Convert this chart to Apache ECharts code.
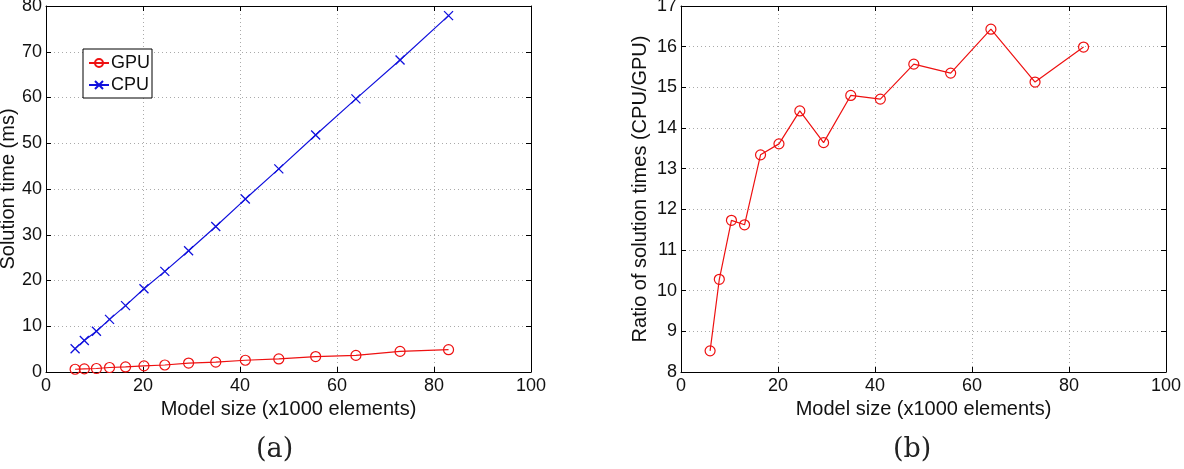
<!DOCTYPE html>
<html>
<head>
<meta charset="utf-8">
<script src="https://cdn.jsdelivr.net/npm/echarts@6/dist/echarts.min.js"></script>
<style>
  html, body { margin: 0; padding: 0; background: #fff; }
  #chart { width: 1184px; height: 469px; }
</style>
</head>
<body>
<div id="chart"></div>
<script>
// model size (x1000 elements)
const modelSize = [6.0, 7.9, 10.4, 13.1, 16.4, 20.2, 24.5, 29.4, 35.0, 41.1, 48.0, 55.6, 63.9, 73.0, 83.0]
// solution time (ms)
const gpuTime = [0.6, 0.68, 0.76, 0.98, 1.1, 1.34, 1.53, 1.95, 2.15, 2.57, 2.85, 3.37, 3.63, 4.5, 4.87]
const cpuTime = [5.1, 6.9, 8.9, 11.5, 14.5, 18.2, 22.0, 26.5, 31.8, 37.8, 44.4, 51.8, 59.7, 68.2, 77.9]
// ratio CPU/GPU
const ratio = [8.52, 10.28, 11.73, 11.62, 13.34, 13.61, 14.42, 13.64, 14.8, 14.71, 15.57, 15.35, 16.43, 15.13, 15.99]

const font = 'Liberation Sans, Arial, sans-serif'
const red = '#ee1111'
const blue = '#1111dd'

function pairs (xs, ys) {
  return xs.map((x, i) => [x, ys[i]])
}

// bottom/left axis with labels, top/right mirror with ticks only (matlab box)
function xAxes (gridIndex) {
  const common = {
    type: 'value', gridIndex: gridIndex, min: 0, max: 100, interval: 20,
    axisLine: { show: true, onZero: false, lineStyle: { color: '#000', width: 1 } },
    axisTick: { show: true, inside: true, length: 5, lineStyle: { color: '#000' } }
  }
  return [
    Object.assign({}, common, {
      position: 'bottom',
      name: 'Model size (x1000 elements)',
      nameLocation: 'middle',
      nameGap: 22,
      nameTextStyle: { color: '#111', fontSize: 20, fontFamily: font },
      axisLabel: { color: '#111', fontSize: 18, fontFamily: font, margin: 5 },
      splitLine: { show: true, lineStyle: { color: '#aaa', type: [1, 3], width: 1 } }
    }),
    Object.assign({}, common, {
      position: 'top',
      axisLabel: { show: false },
      splitLine: { show: false }
    })
  ]
}

function yAxes (gridIndex, min, max, interval, name, nameGap) {
  const common = {
    type: 'value', gridIndex: gridIndex, min: min, max: max, interval: interval,
    axisLine: { show: true, onZero: false, lineStyle: { color: '#000', width: 1 } },
    axisTick: { show: true, inside: true, length: 5, lineStyle: { color: '#000' } }
  }
  return [
    Object.assign({}, common, {
      position: 'left',
      name: name,
      nameLocation: 'middle',
      nameGap: nameGap,
      nameTextStyle: { color: '#111', fontSize: 20, fontFamily: font },
      axisLabel: { color: '#111', fontSize: 18, fontFamily: font, margin: 4 },
      splitLine: { show: true, lineStyle: { color: '#aaa', type: [1, 3], width: 1 } }
    }),
    Object.assign({}, common, {
      position: 'right',
      axisLabel: { show: false },
      splitLine: { show: false }
    })
  ]
}

const chart = echarts.init(document.getElementById('chart'))
const option = {
  backgroundColor: '#fff',
  animation: false,
  grid: [
    { left: 46, right: 653, top: 6, bottom: 97, outerBoundsMode: 'none', containLabel: false },
    { left: 681, right: 18, top: 6, bottom: 97, outerBoundsMode: 'none', containLabel: false }
  ],
  xAxis: xAxes(0).concat(xAxes(1)),
  yAxis: yAxes(0, 0, 80, 10, 'Solution time (ms)', 25).concat(
    yAxes(1, 8, 17, 1, 'Ratio of solution times (CPU/GPU)', 31)),
  legend: {
    orient: 'vertical',
    left: 83,
    top: 49,
    data: ['GPU', 'CPU'],
    backgroundColor: '#fff',
    borderColor: '#000',
    borderWidth: 1,
    padding: [5, 2, 4, 5],
    itemGap: 4,
    itemWidth: 20,
    itemHeight: 10,
    textStyle: { color: '#111', fontSize: 18, fontFamily: font, padding: [0, 0, 0, -3] }
  },
  series: [{
    name: 'GPU',
    type: 'line',
    xAxisIndex: 0,
    yAxisIndex: 0,
    data: pairs(modelSize, gpuTime),
    symbol: 'circle',
    symbolSize: 10,
    lineStyle: { color: red, width: 1.2 },
    itemStyle: { color: 'rgba(0,0,0,0)', borderColor: red, borderWidth: 1.2 }
  }, {
    name: 'CPU',
    type: 'line',
    xAxisIndex: 0,
    yAxisIndex: 0,
    data: pairs(modelSize, cpuTime),
    symbol: 'path://M0,0L10,10M10,0L0,10',
    symbolSize: 9,
    lineStyle: { color: blue, width: 1.2 },
    itemStyle: { color: blue, borderColor: blue, borderWidth: 1.3 }
  }, {
    name: 'Ratio',
    type: 'line',
    xAxisIndex: 2,
    yAxisIndex: 2,
    data: pairs(modelSize, ratio),
    symbol: 'circle',
    symbolSize: 10,
    lineStyle: { color: red, width: 1.2 },
    itemStyle: { color: 'rgba(0,0,0,0)', borderColor: red, borderWidth: 1.2 }
  }],
  graphic: [{
    type: 'text', left: 256, top: 436,
    style: { text: '(a)', fontSize: 27, fontFamily: 'DejaVu Serif, Liberation Serif, serif', fill: '#222' }
  }, {
    type: 'text', left: 893, top: 436,
    style: { text: '(b)', fontSize: 27, fontFamily: 'DejaVu Serif, Liberation Serif, serif', fill: '#222' }
  }]
}
chart.setOption(option)
</script>
</body>
</html>
